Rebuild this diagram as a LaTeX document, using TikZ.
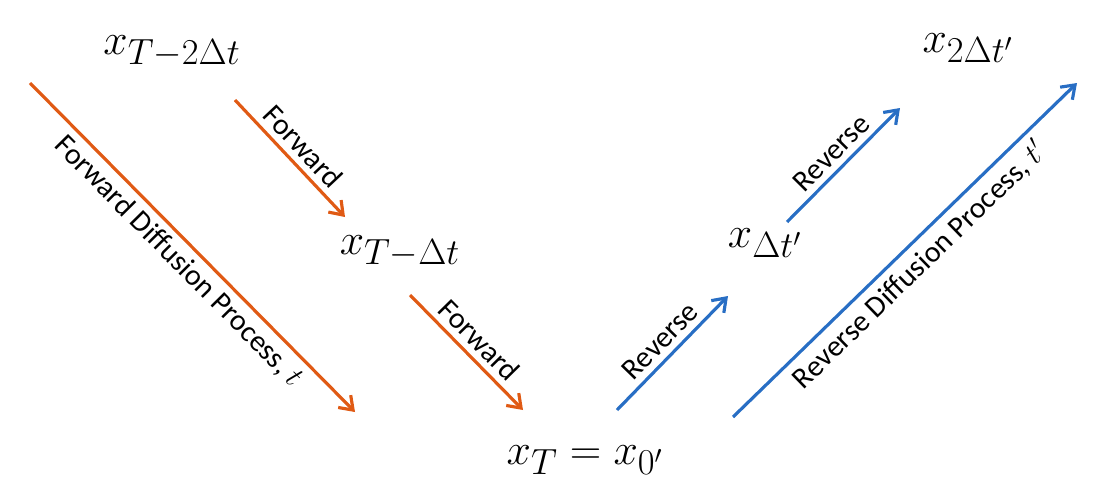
\documentclass[tikz,border=0pt]{standalone}
\usepackage{fontspec}
\setsansfont{Carlito}
\usepackage{amsmath}
\usepackage{tikz}
\usetikzlibrary{arrows.meta}

\begin{document}
\begin{tikzpicture}[x=0.02cm,y=-0.02cm,
	fwd/.style={draw={rgb,255:red,224;green,90;blue,20},line width=1.8pt,-{Straight Barb[length=7pt,width=10pt]}},
	rev/.style={draw={rgb,255:red,40;green,110;blue,196},line width=1.8pt,-{Straight Barb[length=7pt,width=10pt]}},
	lab/.style={font=\sffamily\fontsize{17}{20}\selectfont,sloped},
	state/.style={font=\fontsize{30}{34}\selectfont}]
		\useasboundingbox (0,0) rectangle (1101,501);
		% states
		\node[state] (s2) at (172,52) {$x_{T-2\Delta t}$};
		\node[state] (s1) at (400,252) {$x_{T-\Delta t}$};
		\node[state] (s0) at (585,460) {$x_T = x_{0'}$};
		\node[state] (r1) at (765,243) {$x_{\Delta t'}$};
		\node[state] (r2) at (968,48) {$x_{2\Delta t'}$};
		% arrow ends
		\coordinate (fa) at (30,83);   \coordinate (fb) at (355,412);
		\coordinate (f1a) at (235,100); \coordinate (f1b) at (345,217);
		\coordinate (f2a) at (410,295); \coordinate (f2b) at (523,410);
		\coordinate (r1a) at (617,410); \coordinate (r1b) at (728,296);
		\coordinate (r2a) at (787,222); \coordinate (r2b) at (900,108);
		\coordinate (ra) at (733,417);  \coordinate (rb) at (1077,83);
		% forward
		\draw[fwd] (fa) -- (fb) node[lab,midway,below] {Forward Diffusion Process, $t$};
		\draw[fwd] (f1a) -- (f1b) node[lab,midway,above] {Forward};
		\draw[fwd] (f2a) -- (f2b) node[lab,midway,above] {Forward};
		% reverse
		\draw[rev] (r1a) -- (r1b) node[lab,midway,above] {Reverse};
		\draw[rev] (r2a) -- (r2b) node[lab,midway,above] {Reverse};
		\draw[rev] (ra) -- (rb) node[lab,midway,below] {Reverse Diffusion Process, $t'$};
\end{tikzpicture}
\end{document}
